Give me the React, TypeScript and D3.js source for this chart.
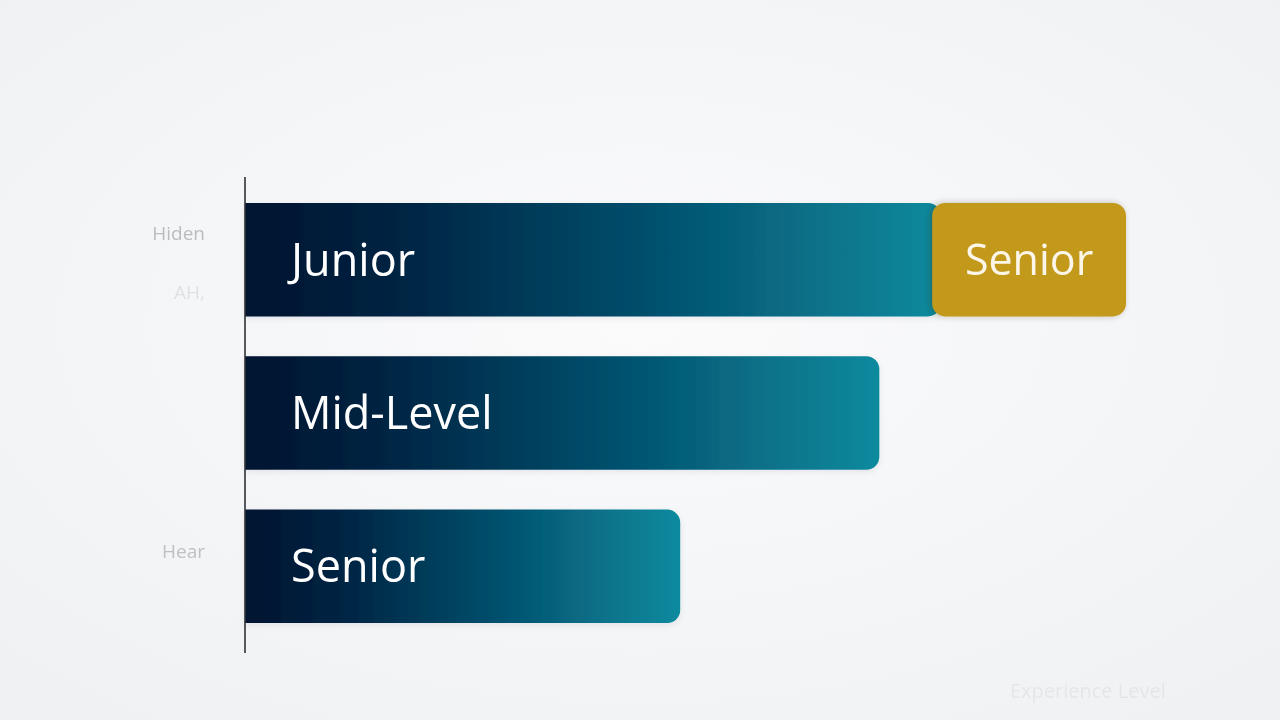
import * as d3 from 'd3';

// Chart data
const categories = ['Junior', 'Mid-Level', 'Senior'];
const baseValues = [78, 72, 49.4];
const stackedLabel = 'Senior';
const stackedValues = [22, 0, 0];
const sideLabels = [
  { text: 'Hiden', row: 0, offset: -0.22, opacity: 0.5 },
  { text: 'AH,', row: 0, offset: 0.3, opacity: 0.18 },
  { text: 'Hear', row: 2, offset: -0.12, opacity: 0.45 },
];

const WIDTH = 1280;
const HEIGHT = 720;

export default function App() {
  const x = d3.scaleLinear().domain([0, 100]).range([245, 1126]);
  const y = d3
    .scaleBand<string>()
    .domain(categories)
    .range([203, 623])
    .paddingInner(0.26)
    .paddingOuter(0);
  const bw = y.bandwidth();
  const r = 13;

  // rect with square left corners and rounded right corners
  const rightRounded = (x0: number, x1: number, y0: number, h: number) => {
    const p = d3.path();
    p.moveTo(x0, y0);
    p.lineTo(x1 - r, y0);
    p.arcTo(x1, y0, x1, y0 + r, r);
    p.lineTo(x1, y0 + h - r);
    p.arcTo(x1, y0 + h, x1 - r, y0 + h, r);
    p.lineTo(x0, y0 + h);
    p.closePath();
    return p.toString();
  };

  return (
    <svg
      width={WIDTH}
      height={HEIGHT}
      style={{ position: 'fixed', left: 0, top: 0, display: 'block' }}
      fontFamily="'Open Sans', 'Noto Sans', sans-serif"
    >
      <defs>
        <radialGradient id="bg" cx="50%" cy="45%" r="70%">
          <stop offset="0%" stopColor="#fbfbfc" />
          <stop offset="100%" stopColor="#eff1f3" />
        </radialGradient>
        {categories.map((c, i) => (
          <linearGradient
            key={c}
            id={`bar-${i}`}
            gradientUnits="userSpaceOnUse"
            x1={x(0)}
            x2={x(baseValues[i] + (stackedValues[i] > 0 ? 1 : 0))}
            y1={0}
            y2={0}
          >
            <stop offset="0%" stopColor="#03132f" />
            <stop offset="25%" stopColor="#042746" />
            <stop offset="60%" stopColor="#05526f" />
            <stop offset="100%" stopColor="#0a8a9e" />
          </linearGradient>
        ))}
        <filter id="shadow" x="-5%" y="-20%" width="110%" height="150%">
          <feDropShadow dx="0" dy="2" stdDeviation="3" floodColor="#0b2a3a" floodOpacity="0.08" />
        </filter>
        <filter id="segShadow" x="-20%" y="-20%" width="140%" height="140%">
          <feDropShadow dx="-2" dy="0" stdDeviation="3" floodColor="#3a2a00" floodOpacity="0.3" />
        </filter>
      </defs>

      <rect width={WIDTH} height={HEIGHT} fill="url(#bg)" />

      {/* faint side labels */}
      {sideLabels.map((s, i) => (
        <text
          key={i}
          x={205}
          y={(y(categories[s.row]) ?? 0) + bw / 2 + s.offset * bw}
          textAnchor="end"
          dominantBaseline="middle"
          fontSize={19}
          fill="#7f8286"
          opacity={s.opacity}
        >
          {s.text}
        </text>
      ))}

      {/* bars */}
      {categories.map((c, i) => {
        const y0 = y(c) ?? 0;
        const hasSeg = stackedValues[i] > 0;
        const end = x(baseValues[i] + (hasSeg ? 1 : 0));
        return (
          <g key={c} filter="url(#shadow)">
            <path d={rightRounded(x(0), end, y0, bw)} fill={`url(#bar-${i})`} />
            <text
              x={x(0) + 46}
              y={y0 + bw / 2 + 4}
              dominantBaseline="middle"
              fontSize={45}
              fill="#ffffff"
            >
              {c}
            </text>
          </g>
        );
      })}

      {/* stacked segment */}
      {categories.map((c, i) => {
        if (stackedValues[i] <= 0) return null;
        const y0 = y(c) ?? 0;
        const x0 = x(baseValues[i]);
        const x1 = x(baseValues[i] + stackedValues[i]);
        return (
          <g key={`seg-${c}`}>
            <rect
              x={x0}
              y={y0}
              width={x1 - x0}
              height={bw}
              rx={r}
              fill="#c3991f"
              filter="url(#segShadow)"
            />
            <text
              x={(x0 + x1) / 2}
              y={y0 + bw / 2 + 4}
              textAnchor="middle"
              dominantBaseline="middle"
              fontSize={43}
              fill="#fbf6e8"
            >
              {stackedLabel}
            </text>
          </g>
        );
      })}

      {/* axis line */}
      <line x1={x(0)} x2={x(0)} y1={177} y2={653} stroke="#2e3338" strokeWidth={1.6} />

      {/* faint footer */}
      <text x={1010} y={698} fontSize={20} fill="#c8cccf" opacity={0.3}>
        Experience Level
      </text>
    </svg>
  );
}
